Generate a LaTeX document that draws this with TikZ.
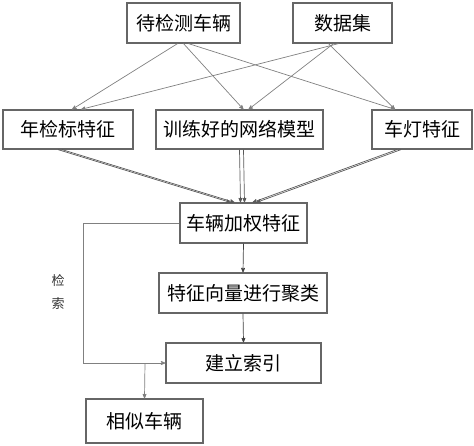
\documentclass[tikz,border=0pt]{standalone}
\usepackage{fontspec}
\setmainfont{Noto Sans CJK SC}
\usetikzlibrary{arrows,positioning}

\begin{document}
\begin{tikzpicture}[x=1pt,y=-1pt,
	box/.style={draw=black!60,line width=1.2pt,minimum height=40pt,inner sep=0pt,font=\fontsize{19}{19}\selectfont},
	link/.style={->,>=stealth',draw=black!50,line width=0.7pt}]
	\useasboundingbox (0,0) rectangle (474,445);
	
	\node[box,minimum width=113pt] (car) at (183.5,23) {待检测车辆};
	\node[box,minimum width=99pt] (data) at (342.5,23) {数据集};
	\node[box,minimum width=130pt,minimum height=39pt] (year) at (68,129.5) {年检标特征};
	\node[box,minimum width=167pt,minimum height=39pt] (net) at (239.5,129.5) {训练好的网络模型};
	\node[box,minimum width=100pt,minimum height=39pt] (lamp) at (422,129.5) {车灯特征};
	\node[box,minimum width=127pt] (weight) at (243.5,223) {车辆加权特征};
	\node[box,minimum width=168pt] (cluster) at (243,293) {特征向量进行聚类};
	\node[box,minimum width=155pt] (index) at (243.5,363) {建立索引};
	\node[box,minimum width=117pt,minimum height=44pt] (similar) at (144.5,421) {相似车辆};
	\node[font=\fontsize{13}{23}\selectfont,align=center,text=black!80] (search) at (58,292) {检\\索};
	
	\coordinate (corner) at (83,363);
	\coordinate (branch) at (145,363);
	
	% top row to middle row
	\path
		([xshift=-6pt]car.south) edge[link] ([xshift=4pt]year.north)
		([xshift=0pt]car.south) edge[link] ([xshift=4pt]net.north)
		([xshift=5pt]car.south) edge[link] ([xshift=-27pt]lamp.north)
		([xshift=-4pt]data.south) edge[link] ([xshift=13pt]year.north)
		([xshift=-9pt]data.south) edge[link] ([xshift=9pt]net.north)
		([xshift=-14pt]data.south) edge[link] ([xshift=-27pt]lamp.north);
	
	% middle row to weighted features
	\foreach \d in {0,4}
		\path
			([xshift=-10pt+\d pt]year.south) edge[link,draw=black!65] ([xshift=-13pt+\d pt]weight.north)
			([xshift=0pt+\d pt]net.south) edge[link,draw=black!65] ([xshift=-3pt+\d pt]weight.north)
			([xshift=-25pt+\d pt]lamp.south) edge[link,draw=black!65] ([xshift=9pt+\d pt]weight.north);
	
	\path
		(weight.south) edge[link,draw=black!75] (cluster.north)
		(cluster.south) edge[link,draw=black!75] (index.north);
	
	\draw [link] (weight.west) -| (corner) -- (index.west);
	\draw [link] (branch) -- (similar.north);
\end{tikzpicture}
\end{document}
